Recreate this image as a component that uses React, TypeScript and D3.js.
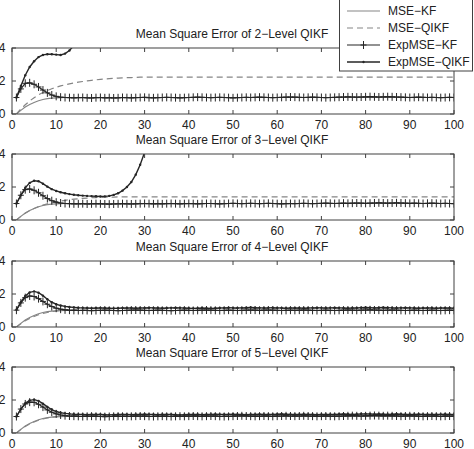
import React from "react";
import * as d3 from "d3";

const STEPS = d3.range(1, 101);
const X_TICKS = [0, 10, 20, 30, 40, 50, 60, 70, 80, 90, 100];
const Y_TICKS = [0, 2, 4];
const LEVELS = ["2", "3", "4", "5"];
const LEGEND = ["MSE−KF", "MSE−QIKF", "ExpMSE−KF", "ExpMSE−QIKF"];

const MSE_KF = [
  0.00, 0.22, 0.42, 0.58, 0.70, 0.80, 0.88, 0.93, 0.96, 0.98, 0.99, 1.00, 1.00, 1.00,
  1.00, 1.00, 1.00, 1.00, 1.00, 1.00, 1.00, 1.00, 1.00, 1.00, 1.00, 1.00, 1.00, 1.00, 1.00, 1.00,
  1.00, 1.00, 1.00, 1.00, 1.00, 1.00, 1.00, 1.00, 1.00, 1.00, 1.00, 1.00, 1.00, 1.00, 1.00, 1.00,
  1.00, 1.00, 1.00, 1.00, 1.00, 1.00, 1.00, 1.00, 1.00, 1.00, 1.00, 1.00, 1.00, 1.00, 1.00, 1.00,
  1.00, 1.00, 1.00, 1.00, 1.00, 1.00, 1.00, 1.00, 1.00, 1.00, 1.00, 1.00, 1.00, 1.00, 1.00, 1.00,
  1.00, 1.00, 1.00, 1.00, 1.00, 1.00, 1.00, 1.00, 1.00, 1.00, 1.00, 1.00, 1.00, 1.00, 1.00, 1.00,
  1.00, 1.00, 1.00, 1.00, 1.00, 1.00,
];

const MSE_QIKF_2 = [
  0.00, 0.30, 0.56, 0.79, 0.99, 1.16, 1.30, 1.42, 1.53, 1.62, 1.70, 1.77, 1.83, 1.88, 1.93,
  1.97, 2.01, 2.04, 2.07, 2.10, 2.12, 2.14, 2.16, 2.18, 2.19, 2.20, 2.21, 2.22, 2.23, 2.24,
  2.24, 2.24, 2.24, 2.24, 2.24, 2.24, 2.24, 2.24, 2.24, 2.24, 2.24, 2.24, 2.24, 2.24, 2.24,
  2.24, 2.24, 2.24, 2.24, 2.24, 2.24, 2.24, 2.24, 2.24, 2.24, 2.24, 2.24, 2.24, 2.24, 2.24,
  2.24, 2.24, 2.24, 2.24, 2.24, 2.24, 2.24, 2.24, 2.24, 2.24, 2.24, 2.24, 2.24, 2.24, 2.24,
  2.24, 2.24, 2.24, 2.24, 2.24, 2.24, 2.24, 2.24, 2.24, 2.24, 2.24, 2.24, 2.24, 2.24, 2.24,
  2.24, 2.24, 2.24, 2.24, 2.24, 2.24, 2.24, 2.24, 2.24, 2.24,
];

const MSE_QIKF_3 = [
  0.00, 0.22, 0.41, 0.57, 0.70, 0.81, 0.90, 0.98, 1.05, 1.10, 1.15, 1.19, 1.23, 1.26, 1.29,
  1.31, 1.33, 1.35, 1.36, 1.37, 1.38, 1.39, 1.39, 1.40, 1.40, 1.40, 1.40, 1.40, 1.40, 1.40,
  1.40, 1.40, 1.40, 1.40, 1.40, 1.40, 1.40, 1.40, 1.40, 1.40, 1.40, 1.40, 1.40, 1.40, 1.40,
  1.40, 1.40, 1.40, 1.40, 1.40, 1.40, 1.40, 1.40, 1.40, 1.40, 1.40, 1.40, 1.40, 1.40, 1.40,
  1.40, 1.40, 1.40, 1.40, 1.40, 1.40, 1.40, 1.40, 1.40, 1.40, 1.40, 1.40, 1.40, 1.40, 1.40,
  1.40, 1.40, 1.40, 1.40, 1.40, 1.40, 1.40, 1.40, 1.40, 1.40, 1.40, 1.40, 1.40, 1.40, 1.40,
  1.40, 1.40, 1.40, 1.40, 1.40, 1.40, 1.40, 1.40, 1.40, 1.40,
];

const MSE_QIKF_4 = [
  0.00, 0.20, 0.38, 0.52, 0.64, 0.74, 0.82, 0.88, 0.93, 0.97, 1.00, 1.03, 1.05, 1.07, 1.08,
  1.09, 1.10, 1.11, 1.11, 1.12, 1.12, 1.12, 1.12, 1.12, 1.12, 1.12, 1.12, 1.12, 1.12, 1.12,
  1.12, 1.12, 1.12, 1.12, 1.12, 1.12, 1.12, 1.12, 1.12, 1.12, 1.12, 1.12, 1.12, 1.12, 1.12,
  1.12, 1.12, 1.12, 1.12, 1.12, 1.12, 1.12, 1.12, 1.12, 1.12, 1.12, 1.12, 1.12, 1.12, 1.12,
  1.12, 1.12, 1.12, 1.12, 1.12, 1.12, 1.12, 1.12, 1.12, 1.12, 1.12, 1.12, 1.12, 1.12, 1.12,
  1.12, 1.12, 1.12, 1.12, 1.12, 1.12, 1.12, 1.12, 1.12, 1.12, 1.12, 1.12, 1.12, 1.12, 1.12,
  1.12, 1.12, 1.12, 1.12, 1.12, 1.12, 1.12, 1.12, 1.12, 1.12,
];

const MSE_QIKF_5 = [
  0.00, 0.21, 0.40, 0.55, 0.67, 0.77, 0.85, 0.91, 0.95, 0.99, 1.01, 1.03, 1.04, 1.05, 1.06,
  1.06, 1.06, 1.06, 1.06, 1.06, 1.06, 1.06, 1.06, 1.06, 1.06, 1.06, 1.06, 1.06, 1.06, 1.06,
  1.06, 1.06, 1.06, 1.06, 1.06, 1.06, 1.06, 1.06, 1.06, 1.06, 1.06, 1.06, 1.06, 1.06, 1.06,
  1.06, 1.06, 1.06, 1.06, 1.06, 1.06, 1.06, 1.06, 1.06, 1.06, 1.06, 1.06, 1.06, 1.06, 1.06,
  1.06, 1.06, 1.06, 1.06, 1.06, 1.06, 1.06, 1.06, 1.06, 1.06, 1.06, 1.06, 1.06, 1.06, 1.06,
  1.06, 1.06, 1.06, 1.06, 1.06, 1.06, 1.06, 1.06, 1.06, 1.06, 1.06, 1.06, 1.06, 1.06, 1.06,
  1.06, 1.06, 1.06, 1.06, 1.06, 1.06, 1.06, 1.06, 1.06, 1.06,
];

const EXP_KF_2 = [
  1.00, 1.52, 1.86, 1.89, 1.80, 1.64, 1.45, 1.28, 1.15, 1.07, 1.02, 1.00, 0.99, 0.98,
  0.99, 1.00, 0.98, 0.97, 0.99, 1.00, 0.98, 0.99, 0.97, 0.98, 1.00, 0.99, 0.98, 0.99, 1.00, 1.01, 0.99, 0.98, 0.99, 1.00,
  1.01, 1.00, 0.99, 0.98, 0.99, 1.00, 1.01, 1.02, 1.01, 1.00, 0.99, 1.00, 1.01, 1.00, 0.99, 0.98, 0.99, 1.00, 1.01, 1.00,
  1.01, 1.02, 1.01, 1.00, 0.99, 1.00, 1.01, 1.02, 1.03, 1.02, 1.01, 1.00, 1.01, 1.02, 1.01, 1.00, 0.99, 1.00, 1.01, 1.02,
  1.03, 1.04, 1.03, 1.02, 1.03, 1.04, 1.05, 1.04, 1.03, 1.04, 1.05, 1.04, 1.03, 1.02, 1.01, 1.00, 1.01, 1.02, 1.01, 1.00,
  1.01, 1.00, 0.99, 1.00, 1.01, 1.00,
];

const EXP_KF_3 = [
  1.00, 1.50, 1.84, 1.88, 1.80, 1.65, 1.47, 1.30, 1.17, 1.08, 1.03, 1.00, 0.99, 0.98,
  0.98, 0.99, 0.97, 0.98, 0.99, 0.98, 0.97, 0.96, 0.97, 0.98, 0.99, 0.98, 0.97, 0.98, 0.99, 1.00, 0.99, 0.98, 0.99, 0.98,
  0.99, 1.00, 0.99, 0.98, 0.99, 1.00, 0.99, 0.98, 0.99, 1.00, 1.00, 0.99, 0.98, 0.99, 1.00, 1.01, 1.00, 0.99, 1.00, 1.01,
  1.00, 0.99, 1.00, 1.01, 1.00, 0.99, 0.98, 0.99, 1.00, 0.99, 1.00, 1.01, 1.00, 0.99, 1.00, 1.01, 1.02, 1.01, 1.00, 1.01,
  1.02, 1.01, 1.02, 1.03, 1.02, 1.01, 1.02, 1.03, 1.04, 1.03, 1.02, 1.03, 1.04, 1.03, 1.02, 1.01, 1.02, 1.01, 1.00, 1.01,
  1.02, 1.01, 1.00, 1.01, 1.00, 0.99,
];

const EXP_KF_4 = [
  1.02, 1.46, 1.78, 1.88, 1.85, 1.72, 1.55, 1.38, 1.24, 1.14, 1.08, 1.04, 1.02, 1.01,
  1.00, 1.01, 1.00, 0.99, 1.00, 1.01, 1.02, 1.01, 1.00, 0.99, 1.00, 1.01, 1.02, 1.03, 1.02, 1.01, 1.00, 1.01, 1.02, 1.01,
  1.00, 0.99, 1.00, 1.01, 1.02, 1.01, 1.00, 1.01, 1.02, 1.03, 1.02, 1.01, 1.00, 1.01, 1.02, 1.01, 1.00, 1.01, 1.02, 1.03,
  1.02, 1.01, 1.02, 1.03, 1.02, 1.01, 1.00, 1.01, 1.02, 1.01, 1.02, 1.03, 1.02, 1.01, 1.00, 1.01, 1.02, 1.01, 1.00, 1.01,
  1.02, 1.03, 1.02, 1.01, 1.02, 1.03, 1.04, 1.03, 1.02, 1.01, 1.02, 1.03, 1.02, 1.01, 1.00, 1.01, 1.02, 1.01, 1.00, 1.01,
  1.02, 1.01, 1.00, 1.01, 1.02, 1.01,
];

const EXP_KF_5 = [
  1.00, 1.45, 1.76, 1.87, 1.86, 1.74, 1.57, 1.40, 1.26, 1.16, 1.09, 1.05, 1.03, 1.02,
  1.01, 1.00, 1.01, 1.02, 1.01, 1.00, 0.99, 1.00, 1.01, 1.02, 1.01, 1.00, 1.01, 1.02, 1.03, 1.02, 1.01, 1.00, 1.01, 1.02,
  1.01, 1.00, 1.01, 1.02, 1.01, 1.02, 1.03, 1.02, 1.01, 1.02, 1.03, 1.02, 1.01, 1.00, 1.01, 1.02, 1.03, 1.04, 1.03, 1.02,
  1.01, 1.02, 1.03, 1.02, 1.01, 1.02, 1.03, 1.04, 1.03, 1.02, 1.03, 1.04, 1.03, 1.02, 1.01, 1.02, 1.03, 1.02, 1.01, 1.02,
  1.03, 1.04, 1.05, 1.04, 1.03, 1.04, 1.05, 1.06, 1.05, 1.04, 1.05, 1.04, 1.03, 1.02, 1.03, 1.04, 1.03, 1.02, 1.01, 1.02,
  1.03, 1.02, 1.01, 1.02, 1.03, 1.02,
];

const EXP_QIKF_2 = [
  1.00, 1.70, 2.35, 2.85, 3.20, 3.45, 3.58, 3.62, 3.62, 3.60, 3.58, 3.66, 3.85, 4.15, 4.50,
];

const EXP_QIKF_3 = [
  1.00, 1.50, 1.95, 2.25, 2.38, 2.35, 2.20, 2.02, 1.87, 1.76, 1.68, 1.62, 1.57, 1.53, 1.50,
  1.48, 1.46, 1.45, 1.44, 1.42, 1.43, 1.46, 1.52, 1.62, 1.78, 2.00, 2.30, 2.75, 3.35, 4.10, 5.00,
];

const EXP_QIKF_4 = [
  1.05, 1.50, 1.88, 2.10, 2.16, 2.08, 1.90, 1.68, 1.50, 1.38, 1.30, 1.25, 1.21, 1.19, 1.17, 1.16,
  1.15, 1.14, 1.15, 1.16, 1.15, 1.14, 1.13, 1.14, 1.15, 1.16, 1.15, 1.14, 1.15, 1.16, 1.17, 1.16, 1.15, 1.14, 1.15, 1.16,
  1.17, 1.16, 1.15, 1.14, 1.13, 1.14, 1.15, 1.14, 1.13, 1.14, 1.15, 1.16, 1.17, 1.16, 1.15, 1.16, 1.17, 1.18, 1.17, 1.16,
  1.15, 1.16, 1.17, 1.16, 1.15, 1.14, 1.15, 1.16, 1.15, 1.14, 1.15, 1.16, 1.17, 1.16, 1.15, 1.16, 1.17, 1.16, 1.15, 1.14,
  1.15, 1.16, 1.17, 1.18, 1.17, 1.16, 1.17, 1.18, 1.17, 1.16, 1.15, 1.16, 1.17, 1.16, 1.15, 1.14, 1.15, 1.16, 1.15, 1.14,
  1.15, 1.16, 1.15, 1.14,
];

const EXP_QIKF_5 = [
  1.00, 1.45, 1.80, 1.98, 2.02, 1.95, 1.78, 1.58, 1.42, 1.30, 1.23, 1.19, 1.16, 1.14,
  1.13, 1.12, 1.11, 1.12, 1.13, 1.12, 1.11, 1.10, 1.11, 1.12, 1.13, 1.12, 1.11, 1.12, 1.13, 1.14, 1.13, 1.12, 1.11, 1.12,
  1.13, 1.12, 1.11, 1.10, 1.11, 1.12, 1.13, 1.12, 1.11, 1.12, 1.13, 1.14, 1.13, 1.12, 1.13, 1.14, 1.13, 1.12, 1.11, 1.12,
  1.13, 1.14, 1.13, 1.12, 1.13, 1.14, 1.15, 1.14, 1.13, 1.12, 1.13, 1.14, 1.13, 1.12, 1.11, 1.12, 1.13, 1.12, 1.13, 1.14,
  1.15, 1.14, 1.13, 1.14, 1.15, 1.16, 1.15, 1.14, 1.15, 1.14, 1.13, 1.14, 1.15, 1.14, 1.13, 1.12, 1.13, 1.14, 1.13, 1.12,
  1.13, 1.12, 1.13, 1.14, 1.13, 1.12,
];

const PANELS = [
  { level: LEVELS[0], mseKf: MSE_KF, mseQ: MSE_QIKF_2, expKf: EXP_KF_2, expQ: EXP_QIKF_2 },
  { level: LEVELS[1], mseKf: MSE_KF, mseQ: MSE_QIKF_3, expKf: EXP_KF_3, expQ: EXP_QIKF_3 },
  { level: LEVELS[2], mseKf: MSE_KF, mseQ: MSE_QIKF_4, expKf: EXP_KF_4, expQ: EXP_QIKF_4 },
  { level: LEVELS[3], mseKf: MSE_KF, mseQ: MSE_QIKF_5, expKf: EXP_KF_5, expQ: EXP_QIKF_5 },
];

const W = 474;
const H = 449;
const LEFT = 12;
const RIGHT = 454;
const TOPS = [48, 154, 261, 367];
const PH = 66;
const FONT = "'Liberation Sans', Arial, sans-serif";
const AX = "#404040";
const GRAY = "#858585";
const DARK = "#262626";

const x = d3.scaleLinear().domain([0, 100]).range([LEFT, RIGHT]);

function plus(cx: number, cy: number) {
  return `M${cx - 3},${cy}h6M${cx},${cy - 4}v8`;
}

function Panel({ idx, p }: { idx: number; p: (typeof PANELS)[number] }) {
  const top = TOPS[idx];
  const y = d3.scaleLinear().domain([0, 4]).range([top + PH, top]);
  const line = d3
    .line<number>()
    .x((_, i) => x(STEPS[i]))
    .y((v) => y(v));
  const clipId = `clip${idx}`;
  const tick = 4;
  return (
    <g>
      <clipPath id={clipId}>
        <rect x={LEFT} y={top} width={RIGHT - LEFT} height={PH} />
      </clipPath>
      <text
        x={(LEFT + RIGHT) / 2 - 1}
        y={top - 10.5}
        textAnchor="middle"
        fontSize={12}
        fontFamily={FONT}
        fill="#222"
      >
        {`Mean Square Error of ${p.level}−Level QIKF`}
      </text>
      <g clipPath={`url(#${clipId})`}>
        <path d={line(p.mseKf) || ""} fill="none" stroke={GRAY} strokeWidth={1.2} />
        <path
          d={line(p.mseQ) || ""}
          fill="none"
          stroke={GRAY}
          strokeWidth={1.2}
          strokeDasharray="6,4"
        />
        <path d={line(p.expKf) || ""} fill="none" stroke={DARK} strokeWidth={1.2} />
        {p.expKf.map((v, i) => (
          <path key={`k${i}`} d={plus(x(STEPS[i]), y(v))} stroke={DARK} strokeWidth={1} />
        ))}
        <path d={line(p.expQ) || ""} fill="none" stroke={DARK} strokeWidth={1.4} />
        {p.expQ.map((v, i) => (
          <circle key={`q${i}`} cx={x(STEPS[i])} cy={y(v)} r={1.2} fill={DARK} />
        ))}
      </g>
      <rect
        x={LEFT}
        y={top}
        width={RIGHT - LEFT}
        height={PH}
        fill="none"
        stroke={AX}
        strokeWidth={1}
      />
      {X_TICKS.map((t) => (
        <g key={`xt${t}`}>
          <line x1={x(t)} x2={x(t)} y1={top + PH} y2={top + PH - tick} stroke={AX} strokeWidth={1} />
          <line x1={x(t)} x2={x(t)} y1={top} y2={top + tick} stroke={AX} strokeWidth={1} />
          <text
            x={x(t)}
            y={top + PH + 14.5}
            textAnchor="middle"
            fontSize={12}
            fontFamily={FONT}
            fill="#222"
          >
            {t}
          </text>
        </g>
      ))}
      {Y_TICKS.map((t) => (
        <g key={`yt${t}`}>
          <line x1={LEFT} x2={LEFT + tick} y1={y(t)} y2={y(t)} stroke={AX} strokeWidth={1} />
          <line x1={RIGHT} x2={RIGHT - tick} y1={y(t)} y2={y(t)} stroke={AX} strokeWidth={1} />
          <text
            x={5.5}
            y={y(t) + 4.3}
            textAnchor="end"
            fontSize={12}
            fontFamily={FONT}
            fill="#222"
          >
            {t}
          </text>
        </g>
      ))}
    </g>
  );
}

function Legend() {
  const x0 = 347;
  const x1 = 380;
  const mid = (x0 + x1) / 2;
  const rows = [11, 28, 45, 62];
  return (
    <g>
      <rect x={339.5} y={-0.5} width={133} height={71.5} fill="#fff" stroke={AX} strokeWidth={1} />
      <line x1={x0} x2={x1} y1={rows[0]} y2={rows[0]} stroke={GRAY} strokeWidth={1.2} />
      <line x1={x0} x2={x1} y1={rows[1]} y2={rows[1]} stroke={GRAY} strokeWidth={1.2} strokeDasharray="6,4" />
      <line x1={x0} x2={x1} y1={rows[2]} y2={rows[2]} stroke={DARK} strokeWidth={1.2} />
      <path d={plus(mid, rows[2])} stroke={DARK} strokeWidth={1} />
      <line x1={x0} x2={x1} y1={rows[3]} y2={rows[3]} stroke={DARK} strokeWidth={1.6} />
      <circle cx={mid} cy={rows[3]} r={1.2} fill={DARK} />
      {LEGEND.map((s, i) => (
        <text
          key={s}
          x={388}
          y={rows[i] + 4.3}
          fontSize={12}
          fontFamily={FONT}
          fill="#222"
        >
          {s}
        </text>
      ))}
    </g>
  );
}

export default function App() {
  return (
    <svg
      width={W}
      height={H}
      style={{ position: "absolute", left: 0, top: 0, background: "#fff", display: "block" }}
    >
      <rect x={0} y={0} width={W} height={H} fill="#fff" />
      {PANELS.map((p, i) => (
        <Panel key={p.level} idx={i} p={p} />
      ))}
      <Legend />
    </svg>
  );
}
